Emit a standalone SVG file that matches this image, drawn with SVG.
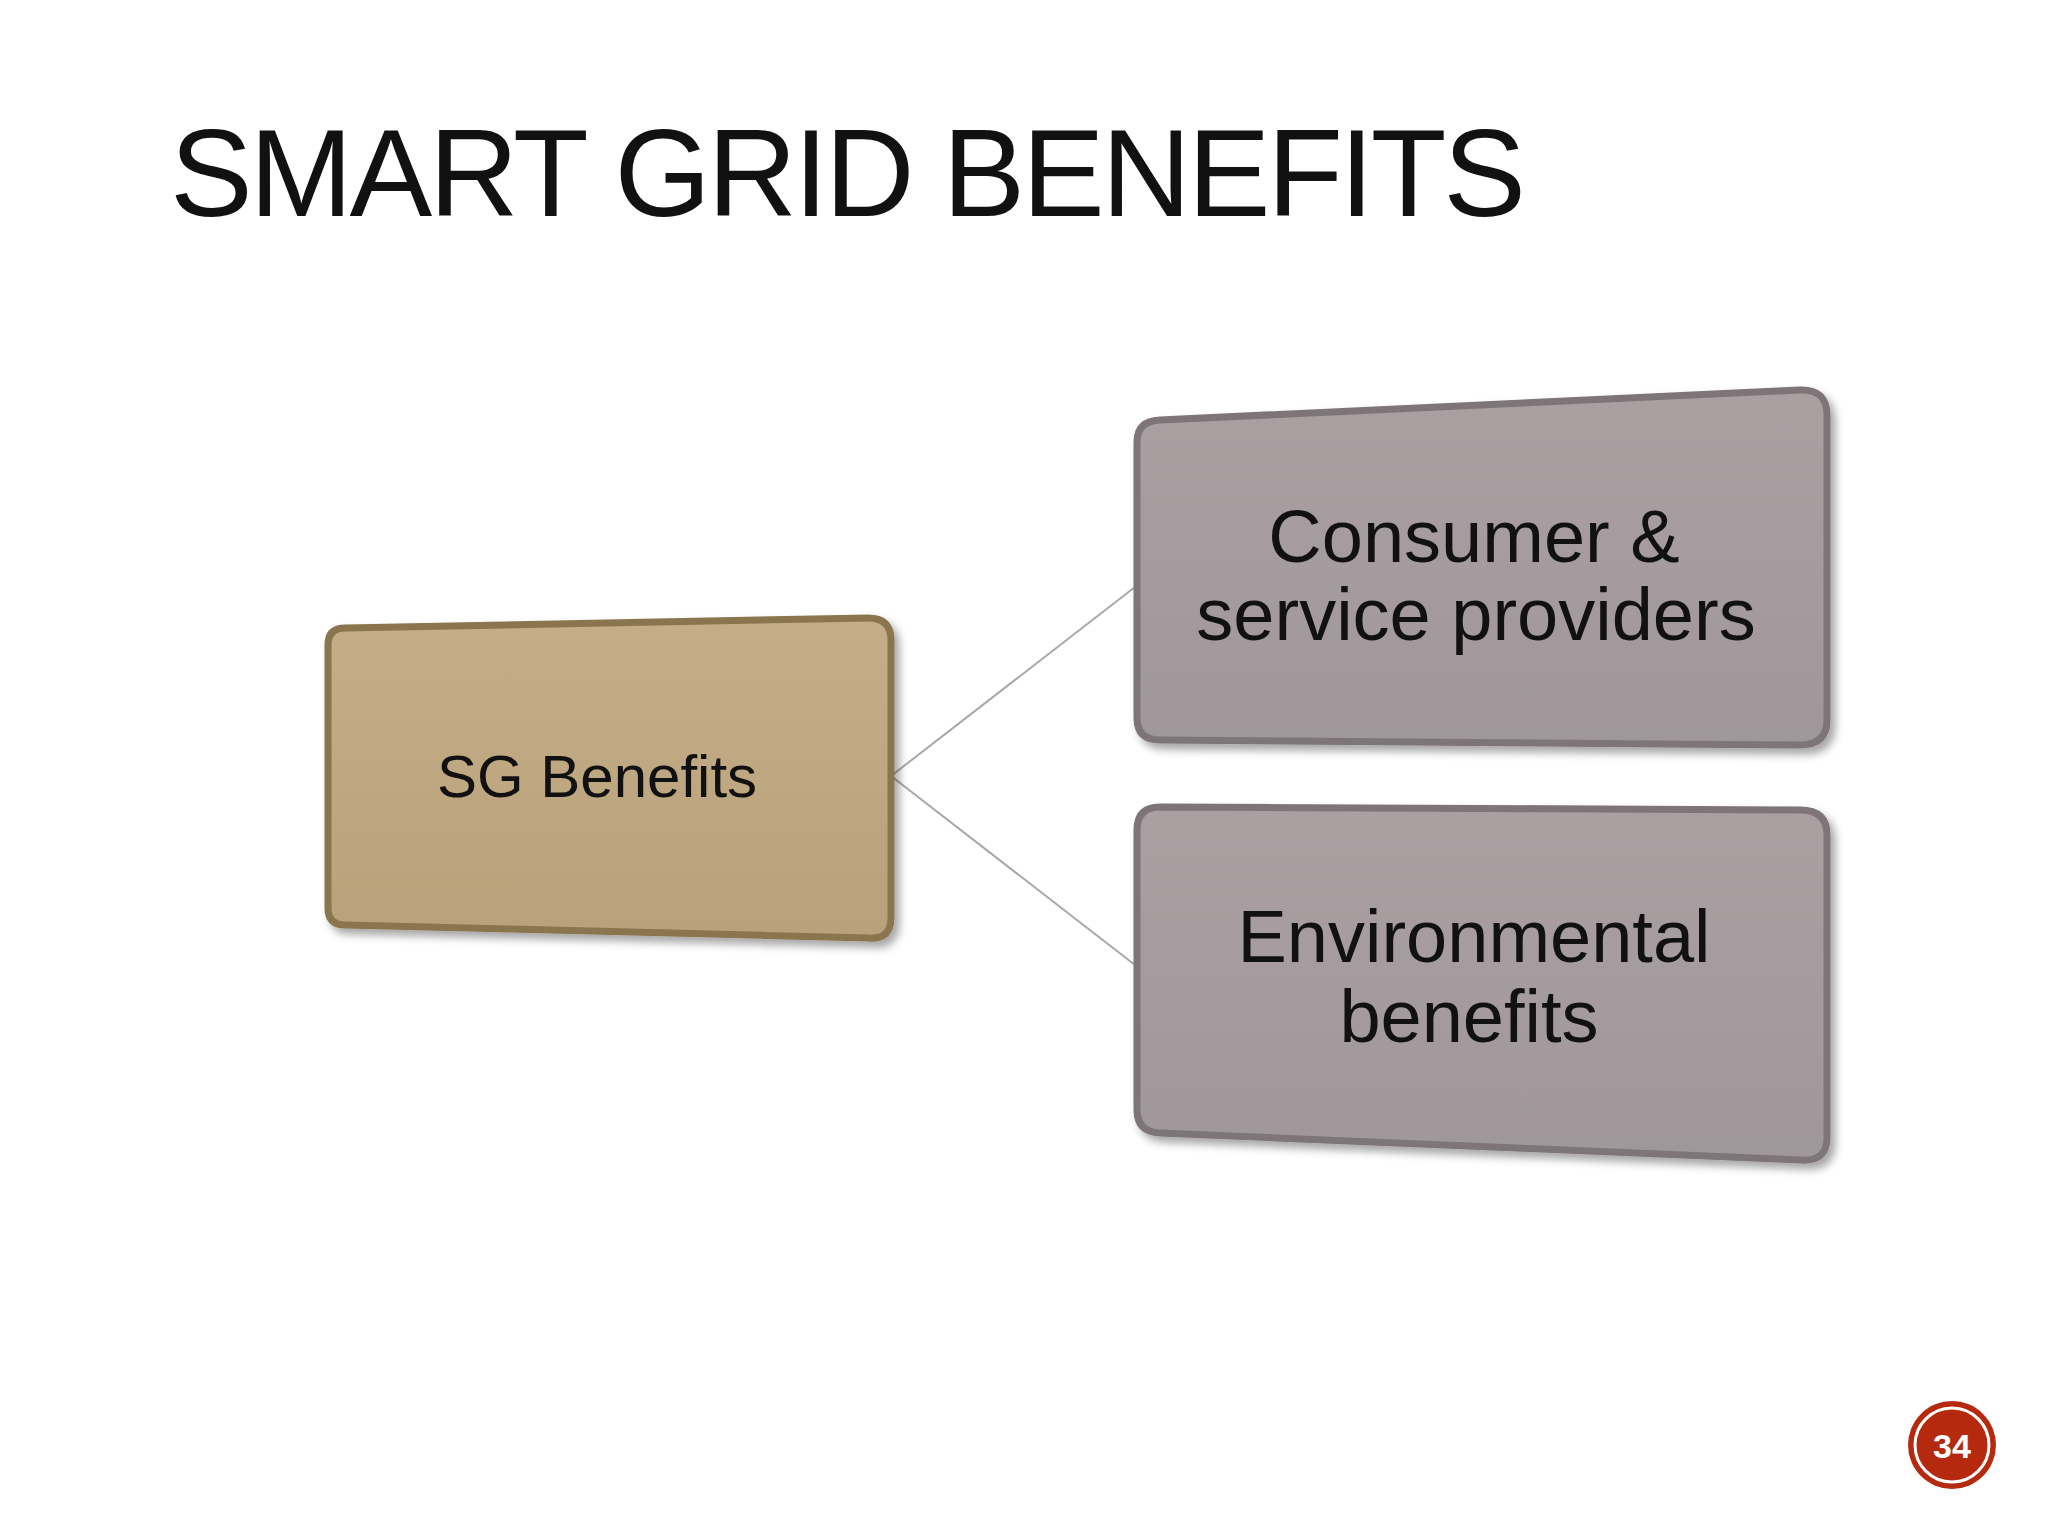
<svg xmlns="http://www.w3.org/2000/svg" width="2048" height="1536" viewBox="0 0 2048 1536">
<defs>
<linearGradient id="gold" x1="0" y1="0" x2="0" y2="1"><stop offset="0" stop-color="#c4ad88"/><stop offset="1" stop-color="#b8a27a"/></linearGradient>
<linearGradient id="grey" x1="0" y1="0" x2="0" y2="1"><stop offset="0" stop-color="#aaa0a2"/><stop offset="1" stop-color="#a0979a"/></linearGradient>
<filter id="sh" x="-10%" y="-10%" width="130%" height="130%"><feDropShadow dx="5" dy="6" stdDeviation="4" flood-color="#000" flood-opacity="0.35"/></filter>
</defs>
<style>
text{font-family:"Liberation Sans",Arial,sans-serif;fill:#111;text-anchor:middle}
.lbl{font-size:74px}
</style>
<rect width="2048" height="1536" fill="#fff"/>
<text x="170" y="216" font-size="124" textLength="1356" style="text-anchor:start" fill="#111">SMART GRID BENEFITS</text>
<g id="connectors" stroke="#a8a8a8" stroke-width="2" fill="none">
<line x1="891" y1="776" x2="1135" y2="587"/>
<line x1="891" y1="776" x2="1135" y2="965"/>
</g>
<g id="sg">
<path d="M345 628 L868 618 Q891 618 891 640 L891 918 Q891 940 868 938 L345 925 Q328 925 328 908 L328 645 Q328 628 345 628 Z" fill="url(#gold)" stroke="#8a7550" stroke-width="7" filter="url(#sh)"/>
<text x="597" y="797" font-size="60">SG Benefits</text>
</g>
<g id="consumer">
<path d="M1160 420 L1800 390 Q1827 389 1827 415 L1827 720 Q1827 745 1800 745 L1160 740 Q1137 740 1137 718 L1137 442 Q1137 421 1160 420 Z" fill="url(#grey)" stroke="#7d7577" stroke-width="7" filter="url(#sh)"/>
<text class="lbl" x="1474" y="562">Consumer &amp;</text>
<text class="lbl" x="1476" y="640">service providers</text>
</g>
<g id="environmental">
<path d="M1160 807 L1800 810 Q1827 810 1827 835 L1827 1138 Q1827 1162 1800 1160 L1160 1133 Q1137 1132 1137 1110 L1137 830 Q1137 807 1160 807 Z" fill="url(#grey)" stroke="#7d7577" stroke-width="7" filter="url(#sh)"/>
<text class="lbl" x="1474" y="962" font-size="80">Environmental</text>
<text class="lbl" x="1469" y="1042" font-size="80">benefits</text>
</g>
<g id="page">
<circle cx="1952" cy="1445" r="44" fill="#b52a0e"/>
<circle cx="1952" cy="1445" r="37" fill="none" stroke="#fff" stroke-width="3"/>
<text x="1952" y="1458" font-size="34" font-weight="bold" style="fill:#fff">34</text>
</g>
</svg>
